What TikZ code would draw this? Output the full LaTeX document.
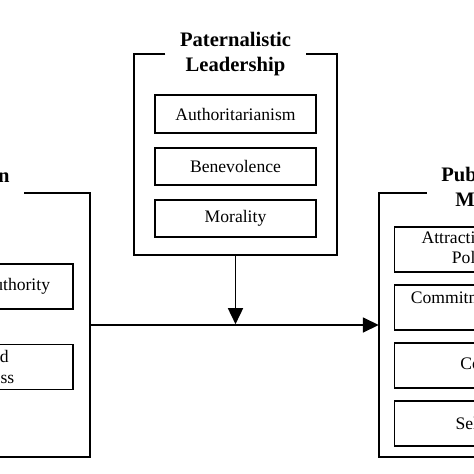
\documentclass[tikz,border=0pt]{standalone}
\usepackage{fontspec}
\setmainfont{Liberation Serif}
\usetikzlibrary{arrows.meta,positioning}

\tikzset{
  frame/.style={draw=none, inner sep=0pt},
  frameline/.style={line width=2pt, line join=miter},
  heading/.style={font=\bfseries\fontsize{20.6}{25}\selectfont, align=center,
    inner xsep=14.5pt, inner ysep=0pt},
  dimbox/.style={draw, line width=1.6pt, align=center, inner sep=0pt,
    font=\fontsize{17.6}{20.5}\selectfont},
  midbox/.style={dimbox, minimum width=161pt, minimum height=37.5pt},
  sidebox/.style={dimbox, minimum width=219pt, minimum height=45pt},
  link/.style={line width=1.6pt, -{Triangle[length=16pt,width=15pt]}}
}

\begin{document}
\begin{tikzpicture}[x=1pt, y=-1pt]
    \useasboundingbox (0,0) rectangle (474,474);
    \clip (0,0) rectangle (474,474);
    % paternalistic leadership (moderator)
    \node[frame, minimum width=203pt, minimum height=201pt] (plF) at (235.5,154.5) {};
    \node[heading] (plT) at (235.5,54.5) {Paternalistic\\Leadership};
    \node[midbox] (plA) at (235.5,114) {Authoritarianism};
    \node[midbox] (plB) at (235.5,166.5) {Benevolence};
    \node[midbox] (plM) at (235.5,218.5) {Morality};
    \draw[frameline] (plT.west |- plF.north) -- (plF.north west) -- (plF.south west)
      -- (plF.south east) -- (plF.north east) -- (plT.east |- plF.north);
    % traditionality (left, cut off)
    \node[frame, minimum width=253pt, minimum height=264pt] (tdF) at (-36.5,325) {};
    \node[heading] (tdT) at (-32,175) {Tradition};
    \node[sidebox] (tdA) at (-36.5,286.5) {Submission to Authority};
    \node[sidebox] (tdD) at (-36.5,367) {Fatalism and\\Defensiveness};
    \draw[frameline] (tdT.west |- tdF.north) -- (tdF.north west) -- (tdF.south west)
      -- (tdF.south east) -- (tdF.north east) -- (tdT.east |- tdF.north);
    % public service motivation (right, cut off)
    \node[frame, minimum width=250pt, minimum height=264pt] (psmF) at (504,325) {};
    \node[heading] (psmT) at (504,186.5) {Public Service\\Motivation};
    \node[sidebox] (psmA) at (504,249.5) {Attraction to the Public\\Policy Making};
    \node[sidebox] (psmC) at (504,307.5) {Commitment to the Public\\Interest};
    \node[sidebox] (psmP) at (504,365.5) {Compassion};
    \node[sidebox] (psmS) at (504,423.5) {Self-Sacrifice};
    \draw[frameline] (psmT.west |- psmF.north) -- (psmF.north west) -- (psmF.south west)
      -- (psmF.south east) -- (psmF.north east) -- (psmT.east |- psmF.north);
    % paths
    \coordinate (hit) at (plF.south |- tdF.east);
    \draw[link] (tdF.east) -- (psmF.west);
    \draw[link] (plF.south) -- ([yshift=0.8pt]hit);
\end{tikzpicture}
\end{document}
